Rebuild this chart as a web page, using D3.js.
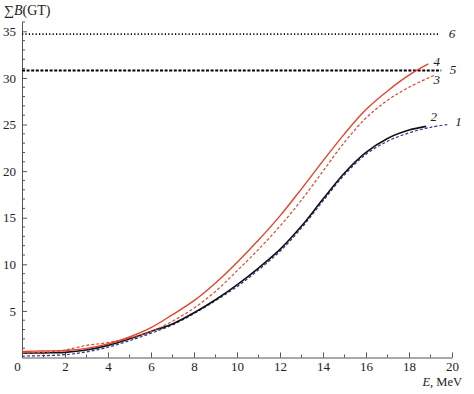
<!DOCTYPE html>
<html>
<head>
<meta charset="utf-8">
<script src="https://cdn.jsdelivr.net/npm/d3@7"></script>
<style>
  body { margin: 0; background: #fff; }
  svg { display: block; font-family: "Liberation Serif", "Times New Roman", serif; }
</style>
</head>
<body>
<div class="visContainer"></div>
<script>
const w = 474;
const h = 394;
const margin = { top: 22, right: 22, bottom: 36.5, left: 22 };

// curve 1 (blue dashed)
const e1 = [0, 1, 2, 3, 4, 5, 6, 7, 8, 9, 10, 11, 12, 13, 14, 15, 16, 17, 18, 19, 19.8];
const b1 = [0.15, 0.2, 0.3, 0.6, 1.1, 1.8, 2.6, 3.5, 4.7, 6.1, 7.6, 9.4, 11.4, 13.9, 16.8, 19.6, 21.8, 23.2, 24.1, 24.7, 25.0];
// curve 2 (black solid)
const e2 = [0, 1, 2, 3, 4, 5, 6, 7, 8, 9, 10, 11, 12, 13, 14, 15, 16, 17, 18, 18.8];
const b2 = [0.45, 0.5, 0.55, 0.8, 1.3, 2.0, 2.8, 3.6, 4.8, 6.2, 7.8, 9.6, 11.6, 14.1, 17.0, 19.8, 22.0, 23.5, 24.4, 24.8];
// curve 3 (red dashed)
const e3 = [0, 1, 2, 3, 4, 5, 6, 7, 8, 9, 10, 11, 12, 13, 14, 15, 16, 17, 18, 19.2];
const b3 = [0.5, 0.55, 0.8, 1.3, 1.6, 2.1, 2.8, 3.9, 5.3, 7.1, 9.3, 11.6, 14.1, 16.9, 20.0, 23.1, 25.7, 27.6, 29.0, 30.3];
// curve 4 (red solid)
const e4 = [0, 1, 2, 3, 4, 5, 6, 7, 8, 9, 10, 11, 12, 13, 14, 15, 16, 17, 18, 18.9];
const b4 = [0.65, 0.7, 0.75, 0.98, 1.45, 2.2, 3.2, 4.6, 6.1, 8.0, 10.2, 12.6, 15.2, 18.1, 21.1, 24.0, 26.6, 28.6, 30.3, 31.5];
// horizontal levels 5 and 6
const level5 = 30.8;
const level6 = 34.7;
const levelEnd = [19.5, 19.4];

const xTicks = [0, 2, 4, 6, 8, 10, 12, 14, 16, 18, 20];
const yTicks = [5, 10, 15, 20, 25, 30, 35];

const svg = d3.select('.visContainer')
  .append('svg')
  .attr('width', w)
  .attr('height', h);

const xScale = d3.scaleLinear().domain([0, 20]).range([margin.left, w - margin.right]);
const yScale = d3.scaleLinear().domain([0, 36]).range([h - margin.bottom, margin.top]);

const axisColor = '#555';

// minor ticks
const xMinor = d3.range(0, 21, 1).filter(v => v % 2 !== 0);
const yMinor = d3.range(1, 37, 1).filter(v => v % 5 !== 0);

const xAxisG = svg.append('g')
  .attr('transform', `translate(0, ${h - margin.bottom})`)
  .call(d3.axisBottom(xScale).tickValues(xTicks).tickSizeInner(-5).tickSizeOuter(0).tickPadding(4).tickFormat(d3.format('d')));

xAxisG.append('g').selectAll('line')
  .data(xMinor)
  .enter()
  .append('line')
  .attr('x1', d => xScale(d))
  .attr('x2', d => xScale(d))
  .attr('y1', 0)
  .attr('y2', -3);

const yAxisG = svg.append('g')
  .attr('transform', `translate(${margin.left}, 0)`)
  .call(d3.axisLeft(yScale).tickValues(yTicks).tickSizeInner(-5).tickSizeOuter(0).tickPadding(6).tickFormat(d3.format('d')));

yAxisG.append('g').selectAll('line')
  .data(yMinor)
  .enter()
  .append('line')
  .attr('x1', 0)
  .attr('x2', 3)
  .attr('y1', d => yScale(d))
  .attr('y2', d => yScale(d));

[xAxisG, yAxisG].forEach(g => {
  g.attr('font-family', null);
  g.selectAll('path, line').attr('stroke', axisColor).attr('stroke-width', 1);
  g.selectAll('text')
    .attr('fill', '#222')
    .style('font-size', '13px');
});
xAxisG.selectAll('.tick text').filter(d => d === 0).attr('dx', -5);

// horizontal levels
svg.append('line')
  .attr('x1', xScale(0)).attr('x2', xScale(levelEnd[1]))
  .attr('y1', yScale(level6)).attr('y2', yScale(level6))
  .attr('stroke', '#000').attr('stroke-width', 1.6)
  .attr('stroke-dasharray', '1.2,2.2');

svg.append('line')
  .attr('x1', xScale(0)).attr('x2', xScale(levelEnd[0]))
  .attr('y1', yScale(level5)).attr('y2', yScale(level5))
  .attr('stroke', '#000').attr('stroke-width', 2)
  .attr('stroke-dasharray', '3,1.6');

const line = d3.line()
  .x(d => xScale(d[0]))
  .y(d => yScale(d[1]))
  .curve(d3.curveCatmullRom.alpha(0.5));

const curves = [
  { e: e1, b: b1, color: '#2e3596', width: 1.2, dash: '3,2' },
  { e: e2, b: b2, color: '#111', width: 1.6, dash: null },
  { e: e3, b: b3, color: '#e0452b', width: 1.2, dash: '3,2' },
  { e: e4, b: b4, color: '#e0452b', width: 1.4, dash: null }
];

curves.forEach(c => {
  svg.append('path')
    .datum(c.e.map((v, i) => [v, c.b[i]]))
    .attr('d', line)
    .attr('fill', 'none')
    .attr('stroke', c.color)
    .attr('stroke-width', c.width)
    .attr('stroke-dasharray', c.dash);
});

// curve numbers
const labels = [
  { t: '1', x: 20.15, y: 24.8 },
  { t: '2', x: 19.0, y: 25.4 },
  { t: '3', x: 19.14, y: 29.3 },
  { t: '4', x: 19.14, y: 31.3 },
  { t: '5', x: 19.9, y: 30.4 },
  { t: '6', x: 19.85, y: 34.3 }
];
svg.append('g').selectAll('text')
  .data(labels)
  .enter()
  .append('text')
  .attr('x', d => xScale(d.x))
  .attr('y', d => yScale(d.y))
  .style('font-size', '13px')
  .style('font-style', 'italic')
  .attr('fill', '#222')
  .text(d => d.t);

// axis titles
const yTitle = svg.append('text')
  .attr('x', 4)
  .attr('y', 15)
  .style('font-size', '14px')
  .attr('fill', '#222');
yTitle.append('tspan').text('∑');
yTitle.append('tspan').style('font-style', 'italic').text('B');
yTitle.append('tspan').text('(GT)');

const xTitle = svg.append('text')
  .attr('x', 462)
  .attr('y', 386)
  .attr('text-anchor', 'end')
  .style('font-size', '12.5px')
  .attr('fill', '#222');
xTitle.append('tspan').style('font-style', 'italic').text('E');
xTitle.append('tspan').text(', MeV');
</script>
</body>
</html>
